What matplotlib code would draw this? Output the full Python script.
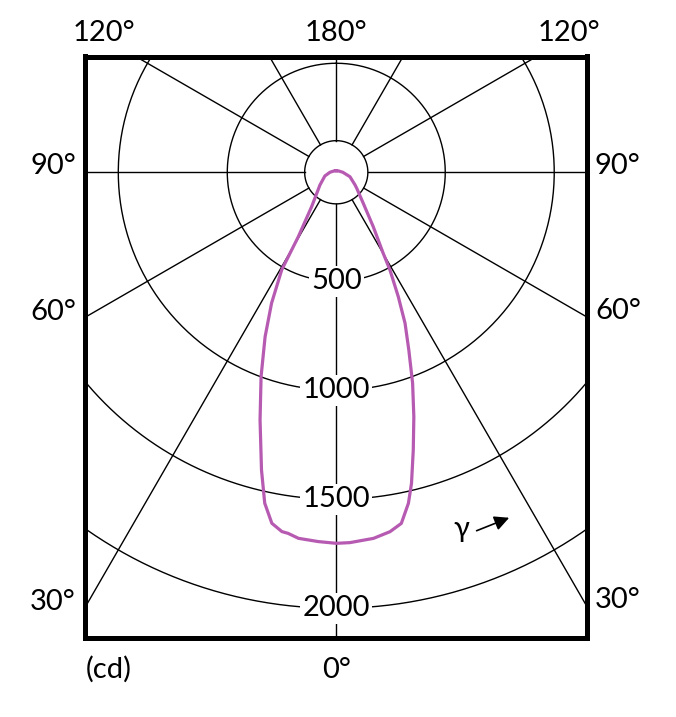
import numpy as np
import matplotlib
matplotlib.use('Agg')
import matplotlib.pyplot as plt

# intensidade luminosa (cd) lida do diagrama
# lado direito (C0) e lado esquerdo (C180), angulo gama em graus a partir de baixo
gama_dir = [0, 2.1, 5.8, 8.5, 10.5, 12.3, 13.6, 15.5, 17.6, 19.9, 22.2, 24.5,
            26.5, 28.8, 30.1, 34.2, 41, 52, 56, 72, 90, 120, 150, 180]
cd_dir = [1702, 1700, 1688, 1667, 1638, 1554, 1468, 1322, 1177, 1029, 881, 761,
          638, 511, 429, 302, 189, 119, 104, 66, 30, 12, 8, 7]
gama_esq = [0, 2.8, 5.9, 7.6, 8.6, 10.4, 12.2, 14.1, 17.1, 20.2, 23.4, 26.3,
            29.2, 30.5, 35.6, 52, 72, 90, 120, 150, 180]
cd_esq = [1702, 1696, 1688, 1671, 1667, 1637, 1553, 1408, 1189, 999, 822, 670,
          513, 343, 194, 95, 55, 29, 12, 8, 7]

aneis = [500, 1000, 1500, 2000]
rotulos_aneis = ['500', '1000', '1500', '2000']
angulos_lado = [90, 60, 30]
rotulos_lado = ['90°', '60°', '30°']
rotulo_topo = '180°'
rotulo_canto = '120°'
rotulo_baixo = '0°'
unidade = '(cd)'
simbolo = 'γ'

cor_curva = '#b65ab2'
PX = 4.587          # cd por pixel
r_hub = 145         # raio do circulo central (cd)
xlim = (-1155, 1148)
ylim = (-2134, 531)

plt.rcParams['font.family'] = ['Lato', 'Open Sans', 'DejaVu Sans']
fs = 21

fig = plt.figure(figsize=(6.76, 7.17), dpi=100)
ax = fig.add_axes([84.5/676, 1 - 637.5/717, 502/676, 581/717])

# grade polar
t = np.linspace(0, 2*np.pi, 500)
for r in aneis:
    ax.plot(r*np.sin(t), r*np.cos(t), color='black', lw=1.0, zorder=1)
ax.plot(r_hub*np.sin(t), r_hub*np.cos(t), color='black', lw=1.0, zorder=1)
for a in np.radians(np.arange(0, 360, 30)):
    ax.plot([r_hub*np.sin(a), 4000*np.sin(a)], [-r_hub*np.cos(a), -4000*np.cos(a)],
            color='black', lw=1.0, zorder=1)

for r, s in zip(aneis, rotulos_aneis):
    ax.text(0, -r, s, ha='center', va='center', fontsize=fs, zorder=3,
            bbox=dict(boxstyle='square,pad=0.08', fc='white', ec='none'))

# curva
g_e = np.radians(np.array(gama_esq))[::-1]
c_e = np.array(cd_esq)[::-1]
g_d = np.radians(np.array(gama_dir))
c_d = np.array(cd_dir)
x = np.concatenate([-c_e*np.sin(g_e), c_d*np.sin(g_d)])
y = np.concatenate([-c_e*np.cos(g_e), -c_d*np.cos(g_d)])
ax.plot(x, y, color=cor_curva, lw=2.3, zorder=4)

ax.set_xlim(xlim)
ax.set_ylim(ylim)
ax.set_xticks([])
ax.set_yticks([])
for sp in ax.spines.values():
    sp.set_linewidth(3.6)

# rotulos dos angulos
for a, s in zip(angulos_lado, rotulos_lado):
    ar = np.radians(a)
    y_esq = -abs(xlim[0])*np.cos(ar)/np.sin(ar)
    y_dir = -abs(xlim[1])*np.cos(ar)/np.sin(ar)
    ax.text(xlim[0] - 8.5*PX, y_esq - 2*PX, s, ha='right', va='baseline', fontsize=fs)
    ax.text(xlim[1] + 8.5*PX, y_dir - 2*PX, s, ha='left', va='baseline', fontsize=fs)

y_topo = ylim[1] + 15*PX
ax.text(0, y_topo, rotulo_topo, ha='center', va='baseline', fontsize=fs)
ax.text(xlim[0] + 19.5*PX, y_topo, rotulo_canto, ha='center', va='baseline', fontsize=fs)
ax.text(xlim[1] - 18*PX, y_topo, rotulo_canto, ha='center', va='baseline', fontsize=fs)

y_baixo = ylim[0] - 40.5*PX
ax.text(0, y_baixo, rotulo_baixo, ha='center', va='baseline', fontsize=fs)
ax.text(xlim[0] + 1.5*PX, y_baixo, unidade, ha='left', va='baseline', fontsize=fs)

# gama com seta
ax.text(572, -1636, simbolo, ha='center', va='center', fontsize=fs)
ax.annotate('', xy=(805, -1580), xytext=(632, -1649),
            arrowprops=dict(arrowstyle='-|>', mutation_scale=22, lw=1.2, color='black'))

plt.savefig('out.png', dpi=100)
